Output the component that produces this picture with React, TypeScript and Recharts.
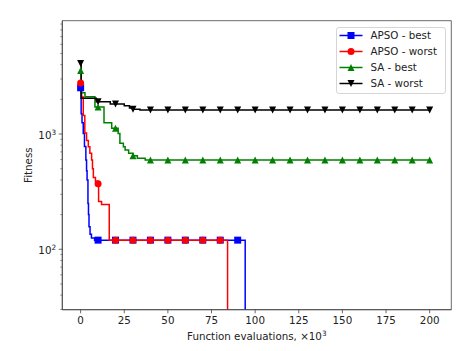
import { LineChart, Line, XAxis, YAxis, Legend, Label, CartesianGrid } from 'recharts'

// x in thousands of function evaluations, y = fitness (log scale)
const xTicks = [0, 25, 50, 75, 100, 125, 150, 175, 200]
const yTicks = [
  30, 40, 50, 60, 70, 80, 90,
  100, 200, 300, 400, 500, 600, 700, 800, 900,
  1000, 2000, 3000, 4000, 5000, 6000, 7000, 8000, 9000,
]
const yMajor = [100, 1000]

// APSO - best (falls to zero at the end, below the log axis)
const apsoBestX = [0, 0.3, 0.8, 1.5, 2.2, 3, 3.4, 3.7, 4.2, 4.5, 4.8, 5.4, 6.2, 8, 10, 20, 30, 40, 50, 60, 70, 80, 90, 94.3]
const apsoBestY = [2520, 1500, 1250, 1010, 780, 595, 480, 400, 250, 200, 157, 135, 125, 120, 120, 120, 120, 120, 120, 120, 120, 120, 120, 0.01]

// APSO - worst
const apsoWorstX = [0, 0.6, 1.5, 2.4, 3.4, 4.4, 5.3, 6.3, 6.8, 7.3, 8.5, 10, 10.3, 12, 16.4, 20, 30, 40, 50, 60, 70, 80, 84.2]
const apsoWorstY = [2770, 2100, 1450, 1020, 880, 776, 680, 595, 500, 420, 390, 370, 260, 245, 120, 120, 120, 120, 120, 120, 120, 120, 0.01]

// SA - best
const saBestX = [0, 0.3, 2.5, 8.2, 10, 13.4, 17.8, 20, 21.5, 22.5, 24.5, 25.5, 27.5, 30, 32.5, 37, 40, 50, 60, 70, 80, 90, 100, 110, 120, 130, 140, 150, 160, 170, 180, 190, 200]
const saBestY = [3550, 2280, 2110, 1715, 1715, 1250, 1120, 1120, 1010, 830, 776, 727, 680, 648, 616, 595, 595, 595, 595, 595, 595, 595, 595, 595, 595, 595, 595, 595, 595, 595, 595, 595, 595]

// SA - worst
const saWorstX = [0, 0.3, 9, 10, 17, 20, 25, 28, 30, 34, 40, 50, 60, 70, 80, 90, 100, 110, 120, 130, 140, 150, 160, 170, 180, 190, 200]
const saWorstY = [4100, 2040, 1905, 1905, 1820, 1820, 1760, 1680, 1640, 1615, 1615, 1615, 1615, 1615, 1615, 1615, 1615, 1615, 1615, 1615, 1615, 1615, 1615, 1615, 1615, 1615, 1615]

const seriesNames = ['APSO - best', 'APSO - worst', 'SA - best', 'SA - worst']

const toRows = (xs: number[], ys: number[]) => xs.map((x, i) => ({ x, y: ys[i] }))

const series = [
  { name: seriesNames[0], data: toRows(apsoBestX, apsoBestY), color: '#0000ff', shape: 'square' },
  { name: seriesNames[1], data: toRows(apsoWorstX, apsoWorstY), color: '#ff0000', shape: 'circle' },
  { name: seriesNames[2], data: toRows(saBestX, saBestY), color: '#008000', shape: 'up' },
  { name: seriesNames[3], data: toRows(saWorstX, saWorstY), color: '#000000', shape: 'down' },
]

const FONT = 'DejaVu Sans, sans-serif'
const FS = 10.3
const TXT = '#222'
const AX = '#444'

function Marker({ shape, color, cx, cy }: { shape: string; color: string; cx: number; cy: number }) {
  const h = 3.5
  if (shape === 'square') return <rect x={cx - h} y={cy - h} width={2 * h} height={2 * h} fill={color} />
  if (shape === 'circle') return <circle cx={cx} cy={cy} r={h} fill={color} />
  if (shape === 'up')
    return <polygon points={`${cx},${cy - h} ${cx - h},${cy + h} ${cx + h},${cy + h}`} fill={color} />
  return <polygon points={`${cx},${cy + h} ${cx - h},${cy - h} ${cx + h},${cy - h}`} fill={color} />
}

// markers every 10k evaluations
const makeDot = (shape: string, color: string) => (props: any) => {
  const { cx, cy, payload, index } = props
  if (cx == null || cy == null || payload.x % 10 !== 0) return <g key={index} />
  return (
    <g key={index}>
      <Marker shape={shape} color={color} cx={cx} cy={cy} />
    </g>
  )
}

const XTick = (props: any) => {
  const { x, y, payload } = props
  return (
    <g>
      <line x1={x} x2={x} y1={y} y2={y + 3.6} stroke={AX} strokeWidth={0.8} />
      <text x={x} y={y + 6.2} dy="0.76em" textAnchor="middle" fontSize={FS} fill={TXT} fontFamily={FONT}>
        {payload.value}
      </text>
    </g>
  )
}

const YTick = (props: any) => {
  const { x, y, payload } = props
  const major = yMajor.includes(payload.value)
  if (!major) return <line x1={x} x2={x - 2} y1={y} y2={y} stroke={AX} strokeWidth={0.6} />
  const exp = Math.round(Math.log10(payload.value))
  return (
    <g>
      <line x1={x} x2={x - 3.6} y1={y} y2={y} stroke={AX} strokeWidth={0.8} />
      <text x={x - 6.2} y={y + 5} textAnchor="end" fontSize={FS} fill={TXT} fontFamily={FONT}>
        10
        <tspan fontSize={7.3} dy={-4.5}>
          {exp}
        </tspan>
      </text>
    </g>
  )
}

const LegendBox = () => (
  <svg width={110} height={67}>
    <rect x={0.5} y={0.5} width={109} height={66} rx={2.5} fill="#fff" fillOpacity={0.8} stroke="#cccccc" strokeWidth={0.8} />
    {series.map((s, i) => (
      <g key={s.name} transform={`translate(0, ${8.5 + i * 16})`}>
        <line x1={3.5} x2={26.5} y1={0} y2={0} stroke={s.color} strokeWidth={1.5} />
        <Marker shape={s.shape} color={s.color} cx={15} cy={0} />
        <text x={34.5} y={0} dy="0.36em" fontSize={FS} fill={TXT} fontFamily={FONT}>
          {s.name}
        </text>
      </g>
    ))}
  </svg>
)

const X_DOMAIN = [-10.5, 212.4]
const Y_DOMAIN = [29.9, 9620]

export default function App() {
  return (
    <div style={{ width: 466, height: 343 }}>
      <LineChart
        width={466}
        height={343}
        margin={{ top: 12.7, right: 22.7, left: 14.3, bottom: 11.3 }}
        style={{ fontFamily: FONT }}
      >
        {/* axes frame: lines at the domain edges */}
        <CartesianGrid
          verticalValues={X_DOMAIN}
          horizontalValues={Y_DOMAIN}
          stroke={AX}
          strokeWidth={0.8}
          fill="none"
        />
        <XAxis
          dataKey="x"
          type="number"
          domain={X_DOMAIN}
          allowDataOverflow
          ticks={xTicks}
          interval={0}
          tickSize={0}
          tickMargin={0}
          tick={XTick}
          tickLine={false}
          height={30}
          axisLine={{ stroke: AX, strokeWidth: 0.8 }}
        >
          <Label
            content={(p: any) => {
              const vb = p.viewBox
              return (
                <text x={vb.x + vb.width / 2} y={vb.y + 30.7} textAnchor="middle" fontSize={FS} fill={TXT} fontFamily={FONT}>
                  Function evaluations, ×10
                  <tspan fontSize={7.3} dy={-4.5}>3</tspan>
                </text>
              )
            }}
          />
        </XAxis>
        <YAxis
          type="number"
          scale="log"
          domain={Y_DOMAIN}
          allowDataOverflow
          ticks={yTicks}
          interval={0}
          tickSize={0}
          tickMargin={0}
          tick={YTick}
          tickLine={false}
          width={40}
          axisLine={{ stroke: AX, strokeWidth: 0.8 }}
        >
          <Label
            content={(p: any) => {
              const vb = p.viewBox
              const cx = vb.x + 5.7
              const cy = vb.y + vb.height / 2
              return (
                <text
                  x={cx}
                  y={cy}
                  transform={`rotate(-90, ${cx}, ${cy})`}
                  textAnchor="middle"
                  dominantBaseline="central"
                  fontSize={FS}
                  fill={TXT}
                  fontFamily={FONT}
                >
                  Fitness
                </text>
              )
            }}
          />
        </YAxis>
        {series.map((s) => (
          <Line
            key={s.name}
            data={s.data}
            dataKey="y"
            name={s.name}
            type="stepAfter"
            stroke={s.color}
            strokeWidth={1.5}
            dot={makeDot(s.shape, s.color)}
            activeDot={false}
            isAnimationActive={false}
          />
        ))}
        <Legend
          layout="vertical"
          align="center"
          verticalAlign="middle"
          content={LegendBox}
          wrapperStyle={{ position: 'absolute', left: 328, top: 18.7, width: 110, height: 67 }}
        />
      </LineChart>
    </div>
  )
}
